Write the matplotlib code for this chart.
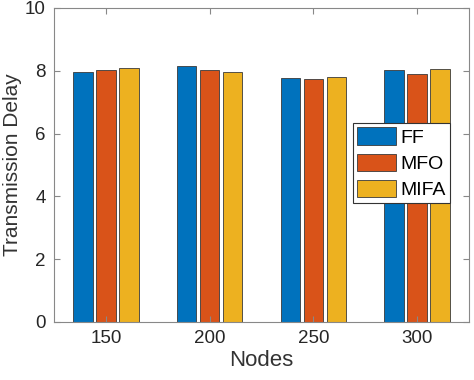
import matplotlib
matplotlib.use('Agg')
import matplotlib.pyplot as plt
import numpy as np

nodes = ['150', '200', '250', '300']
ff = [7.97, 8.14, 7.77, 8.03]
mfo = [8.01, 8.01, 7.74, 7.89]
mifa = [8.09, 7.97, 7.81, 8.06]

plt.rcParams['font.family'] = ['Liberation Sans', 'DejaVu Sans']

fig = plt.figure(figsize=(4.74, 3.8), dpi=100)
ax = fig.add_axes([0.114, 0.153, 0.875, 0.826])

x = np.arange(1, len(nodes) + 1)
w = 0.186
step = 0.222
colors = ['#0072BD', '#D95319', '#EDB120']
for i, (vals, name) in enumerate([(ff, 'FF'), (mfo, 'MFO'), (mifa, 'MIFA')]):
    ax.bar(x + (i - 1) * step, vals, width=w, color=colors[i],
           edgecolor='#3a3a3a', linewidth=0.6, label=name)

ax.set_xlim(0.5, 4.5)
ax.set_ylim(0, 10)
ax.set_xticks(x)
ax.set_xticklabels(nodes)
ax.set_yticks([0, 2, 4, 6, 8, 10])
ax.tick_params(direction='in', top=True, right=True, labelsize=13.5,
               color='#888888', length=4, pad=6, labelcolor='#262626')
for s in ax.spines.values():
    s.set_color('#888888')
    s.set_linewidth(0.8)

ax.set_xlabel('Nodes', fontsize=16, color='#333333', labelpad=2)
ax.set_ylabel('Transmission Delay', fontsize=15, color='#333333', labelpad=2)

leg = ax.legend(loc='upper left', bbox_to_anchor=(0.72, 0.632), fontsize=14,
                handlelength=2.05, handleheight=1.0, handletextpad=0.2,
                borderpad=0.2, labelspacing=0.35, fancybox=False,
                framealpha=1, borderaxespad=0)
leg.get_frame().set_edgecolor('#333333')
leg.get_frame().set_linewidth(0.8)

fig.savefig('out.png', dpi=100)
